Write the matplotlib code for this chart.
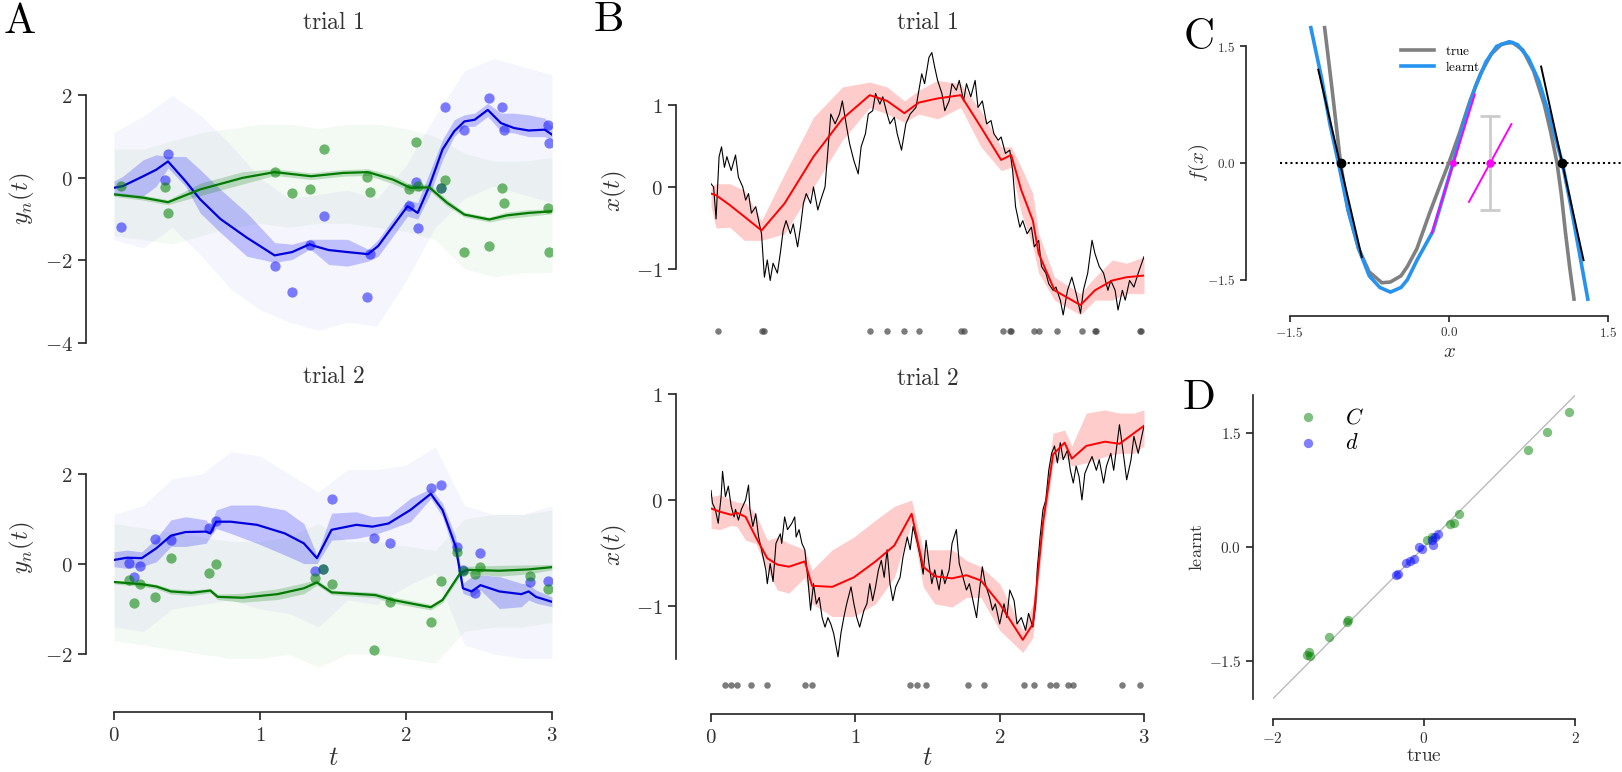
import numpy as np
import matplotlib
matplotlib.use('Agg')
import matplotlib.pyplot as plt

plt.rcParams['mathtext.fontset'] = 'cm'
plt.rcParams['axes.linewidth'] = 1.2

W, H = 1622, 772

# ---------------- panel A : observations y_n(t) ----------------
# observation times (shared with the spike dots of panel B)
obs_t1 = [0.05, 0.35, 0.37, 1.10, 1.22, 1.34, 1.44, 1.73, 1.75, 2.02,
          2.07, 2.08, 2.24, 2.27, 2.40, 2.57, 2.66, 2.67, 2.97, 2.98]
obs_blue1 = [-1.19, -0.04, 0.59, -2.14, -2.77, -1.64, -0.93, -2.89, -1.85, -0.69,
             -0.10, -1.21, -0.24, 1.73, 1.17, 1.94, 1.73, 1.17, 1.29, 0.85]
obs_green1 = [-0.20, -0.23, -0.85, 0.14, -0.36, -0.28, 0.69, 0.02, -0.34, -0.28,
              0.86, -0.20, -0.24, -0.06, -1.79, -1.65, -0.24, -0.62, -0.73, -1.81]

obs_t2 = [0.10, 0.14, 0.18, 0.28, 0.39, 0.65, 0.70, 1.38, 1.43, 1.49,
          1.78, 1.89, 2.17, 2.24, 2.35, 2.39, 2.47, 2.51, 2.85, 2.97]
obs_blue2 = [0.03, -0.28, -0.04, 0.56, 0.53, 0.81, 0.96, -0.15, -0.12, 1.44,
             0.58, 0.47, 1.68, 1.76, 0.37, -0.13, -0.64, 0.25, -0.41, -0.37]
obs_green2 = [-0.36, -0.87, -0.44, -0.73, 0.14, -0.19, 0.00, -0.30, -0.11, -0.44,
              -1.91, -0.85, -1.28, -0.38, 0.27, -0.15, -0.22, -0.07, -0.26, -0.56]

# fitted rate, trial 1
a1_blue_t = [0, 0.06, 0.2, 0.29, 0.37, 0.49, 0.59, 0.73, 0.91, 1.10,
             1.22, 1.34, 1.37, 1.47, 1.60, 1.74, 1.81, 2.01, 2.03, 2.08,
             2.16, 2.25, 2.33, 2.40, 2.47, 2.56, 2.65, 2.74, 2.84, 2.95, 3.0]
a1_blue_m = [-0.24, -0.2, 0.04, 0.2, 0.40, -0.08, -0.52, -1.0, -1.45, -1.88,
             -1.80, -1.61, -1.65, -1.75, -1.80, -1.85, -1.65, -0.69, -0.73, -0.85,
             -0.2, 0.69, 1.13, 1.37, 1.41, 1.65, 1.33, 1.21, 1.15, 1.17, 1.05]
a1_blue_hi = [-0.08, 0.04, 0.44, 0.56, 0.52, 0.52, 0.2, -0.28, -0.85, -1.57,
              -1.61, -1.49, -1.49, -1.49, -1.49, -1.73, -1.49, -0.52, -0.55, -0.6,
              0.12, 0.93, 1.41, 1.53, 1.57, 1.81, 1.57, 1.57, 1.53, 1.45, 1.25]
a1_blue_lo = [-0.4, -0.44, -0.44, -0.2, 0.24, -0.2, -0.85, -1.33, -1.9, -2.05,
              -1.98, -1.73, -1.8, -2.1, -2.14, -2.02, -1.9, -0.93, -0.95, -1.0,
              -0.44, 0.44, 1.0, 1.25, 1.25, 1.49, 1.13, 1.09, 1.0, 1.0, 0.93]

a1_green_t = [0, 0.2, 0.37, 0.59, 0.88, 1.10, 1.35, 1.57, 1.74, 1.91,
              2.03, 2.16, 2.28, 2.40, 2.57, 2.69, 2.84, 3.0]
a1_green_m = [-0.40, -0.48, -0.59, -0.28, 0.0, 0.14, 0.04, 0.12, 0.14, -0.04,
              -0.24, -0.23, -0.6, -0.89, -1.01, -0.91, -0.85, -0.81]
a1_green_sd = [0.05, 0.06, 0.06, 0.15, 0.15, 0.08, 0.08, 0.08, 0.08, 0.1,
               0.08, 0.08, 0.08, 0.06, 0.06, 0.08, 0.08, 0.06]

# fitted rate, trial 2
a2_blue_t = [0, 0.09, 0.19, 0.29, 0.39, 0.49, 0.63, 0.66, 0.70, 0.80,
             0.98, 1.17, 1.30, 1.39, 1.49, 1.66, 1.77, 1.88, 2.03, 2.17,
             2.25, 2.34, 2.39, 2.45, 2.51, 2.64, 2.79, 2.84, 2.89, 3.0]
a2_blue_m = [0.09, 0.14, 0.13, 0.35, 0.63, 0.71, 0.72, 0.68, 0.94, 0.94,
             0.87, 0.68, 0.46, 0.13, 0.76, 0.87, 0.83, 0.9, 1.2, 1.56,
             1.2, 0.39, -0.54, -0.61, -0.47, -0.61, -0.67, -0.61, -0.73, -0.84]
a2_blue_hi = [0.27, 0.31, 0.27, 0.57, 0.98, 1.05, 0.98, 0.83, 1.2, 1.31,
              1.31, 1.2, 0.9, 0.2, 1.13, 1.16, 1.05, 1.07, 1.46, 1.68,
              1.35, 0.61, -0.43, -0.28, -0.24, -0.28, -0.43, -0.45, -0.58, -0.73]
a2_blue_lo = [-0.06, -0.1, -0.06, 0.05, 0.39, 0.39, 0.46, 0.61, 0.79, 0.68,
              0.46, 0.2, 0.01, 0.01, 0.53, 0.57, 0.64, 0.76, 0.94, 1.46,
              1.05, 0.16, -0.65, -0.73, -0.58, -0.99, -0.95, -0.8, -0.87, -0.95]

a2_green_t = [0, 0.19, 0.29, 0.39, 0.53, 0.66, 0.71, 0.88, 1.12, 1.30,
              1.39, 1.49, 1.79, 1.91, 2.17, 2.25, 2.37, 2.42, 2.64, 2.84, 3.0]
a2_green_m = [-0.4, -0.45, -0.5, -0.61, -0.64, -0.59, -0.73, -0.75, -0.67, -0.54,
              -0.41, -0.63, -0.69, -0.8, -0.96, -0.8, -0.21, -0.13, -0.15, -0.12, -0.07]
a2_green_sd = [0.04, 0.05, 0.05, 0.06, 0.06, 0.05, 0.06, 0.1, 0.12, 0.12,
               0.06, 0.05, 0.06, 0.07, 0.06, 0.06, 0.06, 0.08, 0.12, 0.1, 0.06]

# faint cloud of noisy samples behind the fits (upper / lower envelope)
noise_t = [0, 0.2, 0.4, 0.6, 0.8, 1.0, 1.2, 1.4, 1.6, 1.8, 2.0, 2.2, 2.4, 2.6, 2.8, 3.0]
n1_blue_hi = [1.1, 1.5, 2.0, 1.5, 0.8, 0.0, -0.5, -0.4, -0.3, -0.5, 0.3, 1.5, 2.6, 2.9, 2.7, 2.5]
n1_blue_lo = [-1.5, -1.7, -1.2, -1.9, -2.7, -3.2, -3.5, -3.7, -3.5, -3.6, -2.5, -1.2, -0.5, -0.2, -0.4, -0.6]
n1_green_hi = [0.7, 0.7, 0.9, 1.1, 1.2, 1.3, 1.3, 1.2, 1.3, 1.3, 1.2, 1.0, 0.6, 0.4, 0.4, 0.5]
n1_green_lo = [-1.4, -1.5, -1.6, -1.4, -1.2, -1.1, -1.2, -1.1, -1.1, -1.2, -1.3, -1.5, -2.2, -2.4, -2.3, -2.3]
n2_blue_hi = [1.1, 1.3, 1.9, 2.0, 2.5, 2.4, 2.0, 1.6, 2.1, 2.1, 2.2, 2.6, 1.3, 1.1, 1.1, 1.3]
n2_blue_lo = [-1.4, -1.5, -1.0, -0.9, -0.8, -1.0, -1.1, -1.4, -0.8, -0.9, -0.5, -0.2, -1.8, -2.0, -2.1, -2.1]
n2_green_hi = [0.9, 0.8, 0.7, 0.6, 0.5, 0.5, 0.6, 0.9, 0.5, 0.5, 0.4, 0.3, 1.0, 1.1, 1.1, 1.2]
n2_green_lo = [-1.7, -1.8, -1.9, -2.0, -2.1, -2.1, -2.0, -2.3, -2.0, -2.0, -2.1, -2.2, -1.5, -1.4, -1.4, -1.3]

# ---------------- panel B : latent x(t) ----------------
b1_t = [0, 0.035, 0.13, 0.23, 0.35, 0.51, 0.71, 0.91, 1.10, 1.22,
        1.34, 1.44, 1.57, 1.73, 1.87, 2.01, 2.08, 2.15, 2.23, 2.27,
        2.38, 2.56, 2.66, 2.78, 2.88, 3.0]
b1_m = [-0.08, -0.1, -0.22, -0.36, -0.53, -0.2, 0.37, 0.83, 1.12, 1.05,
        0.9, 1.03, 1.08, 1.12, 0.73, 0.33, 0.39, -0.04, -0.41, -0.81,
        -1.26, -1.44, -1.26, -1.14, -1.1, -1.08]
b1_hi = [0.0, 0.04, 0.04, -0.04, -0.41, 0.16, 0.85, 1.22, 1.28, 1.22,
         1.05, 1.18, 1.30, 1.26, 0.93, 0.49, 0.49, 0.24, -0.08, -0.57,
         -1.1, -1.3, -1.1, -0.89, -0.93, -0.85]
b1_lo = [-0.24, -0.5, -0.49, -0.65, -0.65, -0.57, 0.0, 0.57, 0.97, 0.89,
         0.79, 0.89, 0.83, 0.97, 0.49, 0.2, 0.24, -0.32, -0.73, -1.05,
         -1.38, -1.56, -1.38, -1.38, -1.3, -1.3]

b1_true_t = [0, 0.018, 0.035, 0.056, 0.073, 0.093, 0.11, 0.14, 0.17, 0.19,
             0.22, 0.24, 0.26, 0.28, 0.31, 0.33, 0.35, 0.37, 0.39, 0.41,
             0.43, 0.46, 0.48, 0.50, 0.52, 0.55, 0.57, 0.60, 0.62, 0.64,
             0.66, 0.69, 0.71, 0.74, 0.76, 0.79, 0.81, 0.83, 0.86, 0.89,
             0.91, 0.94, 0.96, 0.99, 1.02, 1.04, 1.07, 1.09, 1.12, 1.14,
             1.17, 1.19, 1.22, 1.24, 1.27, 1.29, 1.32, 1.35, 1.38, 1.42,
             1.46, 1.48, 1.51, 1.53, 1.55, 1.57, 1.60, 1.62, 1.65, 1.67,
             1.70, 1.72, 1.75, 1.77, 1.80, 1.83, 1.85, 1.88, 1.91, 1.94,
             1.96, 1.99, 2.01, 2.04, 2.07, 2.09, 2.11, 2.14, 2.16, 2.19,
             2.22, 2.24, 2.27, 2.29, 2.32, 2.34, 2.37, 2.39, 2.42, 2.44,
             2.47, 2.50, 2.53, 2.56, 2.58, 2.61, 2.64, 2.66, 2.69, 2.72,
             2.75, 2.77, 2.80, 2.82, 2.85, 2.87, 2.90, 2.93, 2.96, 3.0]
b1_true_x = [0.04, 0.0, -0.39, 0.37, 0.49, 0.24, 0.37, 0.2, 0.39, 0.12,
             0.0, -0.16, -0.08, -0.32, -0.24, -0.41, -0.57, -1.1, -0.89, -1.14,
             -0.93, -1.05, -0.81, -0.53, -0.41, -0.57, -0.45, -0.73, -0.49, -0.2,
             -0.08, -0.2, 0.0, -0.28, -0.16, 0.0, 0.45, 0.89, 0.77, 0.89,
             1.05, 0.73, 0.53, 0.32, 0.16, 0.49, 0.65, 0.89, 0.93, 1.14,
             1.01, 1.1, 0.89, 0.77, 0.85, 0.65, 0.45, 0.77, 0.89, 0.97,
             1.38, 1.26, 1.58, 1.64, 1.46, 1.3, 1.14, 0.93, 1.05, 1.26,
             1.18, 1.3, 1.05, 1.26, 1.1, 1.3, 0.97, 1.05, 0.77, 0.81,
             0.65, 0.57, 0.61, 0.41, 0.45, 0.2, -0.24, -0.49, -0.41, -0.57,
             -0.49, -0.73, -0.65, -0.97, -1.05, -1.18, -1.26, -1.22, -1.38, -1.56,
             -1.26, -1.1, -1.3, -1.54, -1.26, -1.05, -0.65, -0.81, -0.97, -1.05,
             -1.26, -1.14, -1.26, -1.5, -1.26, -1.38, -1.14, -1.22, -1.05, -0.85]

b2_t = [0, 0.06, 0.14, 0.18, 0.24, 0.31, 0.39, 0.46, 0.54, 0.65,
        0.70, 0.84, 0.99, 1.14, 1.27, 1.39, 1.47, 1.55, 1.67, 1.77,
        1.87, 2.0, 2.16, 2.23, 2.30, 2.37, 2.45, 2.50, 2.60, 2.73,
        2.83, 2.93, 3.0]
b2_m = [-0.08, -0.11, -0.14, -0.12, -0.16, -0.35, -0.55, -0.61, -0.63, -0.58,
        -0.81, -0.82, -0.73, -0.58, -0.43, -0.13, -0.63, -0.72, -0.74, -0.71,
        -0.76, -0.98, -1.32, -1.17, -0.22, 0.43, 0.54, 0.39, 0.51, 0.55,
        0.53, 0.63, 0.70]
b2_hi = [0.03, 0.05, 0.0, -0.02, -0.03, -0.13, -0.38, -0.35, -0.41, -0.47,
         -0.66, -0.47, -0.35, -0.19, -0.06, 0.0, -0.47, -0.47, -0.47, -0.57,
         -0.63, -0.79, -1.23, -0.98, -0.09, 0.63, 0.66, 0.51, 0.82, 0.85,
         0.82, 0.82, 0.85]
b2_lo = [-0.27, -0.28, -0.24, -0.25, -0.38, -0.41, -0.66, -0.85, -0.88, -0.73,
         -0.98, -1.1, -1.1, -0.98, -0.73, -0.22, -0.82, -0.98, -1.01, -0.92,
         -0.92, -1.23, -1.44, -1.30, -0.35, 0.35, 0.41, 0.32, 0.35, 0.41,
         0.44, 0.44, 0.51]

b2_true_t = [0, 0.01, 0.03, 0.05, 0.07, 0.08, 0.10, 0.12, 0.14, 0.16,
             0.17, 0.19, 0.21, 0.24, 0.26, 0.27, 0.29, 0.31, 0.33, 0.35,
             0.38, 0.39, 0.41, 0.43, 0.45, 0.48, 0.49, 0.51, 0.53, 0.56,
             0.58, 0.59, 0.61, 0.63, 0.65, 0.67, 0.69, 0.71, 0.73, 0.75,
             0.77, 0.79, 0.81, 0.83, 0.85, 0.88, 0.90, 0.92, 0.94, 0.97,
             0.99, 1.01, 1.03, 1.06, 1.08, 1.10, 1.12, 1.14, 1.16, 1.18,
             1.20, 1.22, 1.24, 1.26, 1.28, 1.31, 1.33, 1.36, 1.38, 1.40,
             1.43, 1.45, 1.47, 1.49, 1.51, 1.53, 1.55, 1.58, 1.60, 1.62,
             1.65, 1.67, 1.70, 1.72, 1.74, 1.77, 1.79, 1.82, 1.84, 1.86,
             1.88, 1.90, 1.93, 1.95, 1.97, 2.0, 2.03, 2.05, 2.07, 2.10,
             2.12, 2.15, 2.18, 2.20, 2.23, 2.25, 2.26, 2.28, 2.30, 2.32,
             2.34, 2.36, 2.38, 2.40, 2.42, 2.44, 2.47, 2.49, 2.51, 2.53,
             2.55, 2.57, 2.59, 2.62, 2.64, 2.67, 2.69, 2.72, 2.74, 2.77,
             2.79, 2.83, 2.85, 2.88, 2.91, 2.93, 2.96, 3.0]
b2_true_x = [0.09, -0.03, -0.09, -0.22, 0.03, 0.27, 0.03, 0.13, -0.06, -0.16,
             -0.09, -0.19, -0.09, 0.0, 0.14, -0.09, -0.25, -0.13, -0.35, -0.47,
             -0.66, -0.79, -0.6, -0.77, -0.41, -0.32, -0.41, -0.16, -0.28, -0.22,
             -0.16, -0.35, -0.28, -0.41, -0.47, -0.73, -1.04, -0.79, -0.98, -0.92,
             -1.11, -1.2, -1.11, -1.17, -1.26, -1.48, -1.26, -1.11, -0.98, -0.82,
             -0.98, -1.11, -1.2, -1.04, -0.98, -0.79, -0.95, -0.82, -0.66, -0.57,
             -0.73, -0.47, -0.79, -0.95, -0.82, -0.73, -0.54, -0.35, -0.47, -0.25,
             -0.41, -0.54, -0.7, -0.38, -0.6, -0.79, -0.66, -0.85, -0.66, -0.79,
             -0.66, -0.41, -0.28, -0.6, -0.7, -0.85, -0.79, -0.98, -1.11, -0.85,
             -0.63, -0.79, -0.92, -1.04, -0.98, -1.17, -0.98, -1.11, -0.85, -0.95,
             -1.17, -1.11, -1.23, -1.07, -1.2, -0.98, -0.66, -0.35, -0.09, 0.0,
             0.28, 0.44, 0.51, 0.35, 0.54, 0.38, 0.47, 0.28, 0.16, 0.32,
             0.22, 0.0, 0.25, 0.35, 0.41, 0.28, 0.38, 0.16, 0.32, 0.44,
             0.28, 0.71, 0.51, 0.19, 0.38, 0.6, 0.44, 0.70]

# ---------------- panel C : dynamics f(x) ----------------
c_true_x = [-1.17, -1.10, -1.02, -0.95, -0.85, -0.75, -0.63, -0.55, -0.45, -0.39,
            -0.30, -0.18, -0.08, 0.0, 0.1, 0.2, 0.3, 0.4, 0.5, 0.6,
            0.7, 0.8, 0.9, 0.96, 1.02, 1.06, 1.10, 1.14, 1.18]
c_true_y = [1.74, 0.95, 0.0, -0.6, -1.1, -1.4, -1.54, -1.53, -1.45, -1.33,
            -1.1, -0.64, -0.28, 0.0, 0.38, 0.8, 1.15, 1.4, 1.53, 1.55,
            1.45, 1.18, 0.75, 0.4, 0.0, -0.4, -0.9, -1.35, -1.75]
c_learnt_x = [-1.30, -1.2, -1.12, -1.04, -0.95, -0.85, -0.75, -0.65, -0.55, -0.45,
              -0.39, -0.3, -0.15, -0.05, 0.04, 0.15, 0.25, 0.35, 0.45, 0.57,
              0.65, 0.75, 0.85, 0.95, 1.07, 1.15, 1.23, 1.31]
c_learnt_y = [1.74, 1.1, 0.5, 0.0, -0.6, -1.1, -1.45, -1.6, -1.66, -1.6,
              -1.5, -1.25, -0.88, -0.42, 0.0, 0.55, 0.98, 1.3, 1.5, 1.56,
              1.52, 1.35, 1.05, 0.6, 0.0, -0.55, -1.15, -1.75]
fp_stable_x = [-1.02, 1.07]
fp_unstable_x = [0.04]
fp_uncertain_x = 0.39
fp_uncertain_err = 0.6
# linearisations around the fixed points: (x0, x1, y0, y1)
tan_black = [(-1.23, -0.82, 1.2, -1.21), (0.87, 1.27, 1.24, -1.25)]
tan_magenta = [(-0.16, 0.245, -0.9, 0.88), (0.19, 0.59, -0.5, 0.5)]

# ---------------- panel D : parameters, true vs learnt ----------------
C_true = [1.92, 1.63, 1.38, 0.46, 0.40, 0.34, 0.04, 0.10, -1.0, -1.02, -1.26, -1.52, -1.54, -1.50]
C_learnt = [1.77, 1.51, 1.27, 0.43, 0.32, 0.30, 0.09, 0.13, -0.96, -0.99, -1.19, -1.38, -1.42, -1.44]
d_true = [0.18, 0.14, 0.10, 0.12, -0.03, -0.06, -0.13, -0.19, -0.24, -0.35, -0.37]
d_learnt = [0.17, 0.13, 0.09, 0.03, -0.03, 0.0, -0.16, -0.18, -0.21, -0.35, -0.37]

TXT = '#333333'


def add_ax(l, r, t, b):
    return fig.add_axes([l / W, 1 - b / H, (r - l) / W, (b - t) / H])


def style(ax, left_off, bottom_off=None, size=15, tick_len=6):
    for s in ['top', 'right']:
        ax.spines[s].set_visible(False)
    for s in ['left', 'bottom']:
        ax.spines[s].set_color('#222222')
    ax.spines['left'].set_position(('outward', left_off))
    if bottom_off is None:
        ax.spines['bottom'].set_visible(False)
        ax.tick_params(axis='x', bottom=False, labelbottom=False)
    else:
        ax.spines['bottom'].set_position(('outward', bottom_off))
    ax.tick_params(labelsize=size, length=tick_len, width=1.2, colors='#222222', labelcolor=TXT)
    ax.patch.set_alpha(0)


def mt(vals, fmt='{:g}'):
    return ['$' + fmt.format(v) + '$' for v in vals]


def ftext(x, y, s, size, **kw):
    fig.text(x / W, 1 - y / H, s, fontsize=size, ha='center', va='center', color=kw.pop('color', TXT), **kw)


fig = plt.figure(figsize=(W / 100, H / 100), dpi=100)

# ---- A ----
for (top, bot, ylim, yt, ybnd, nt, data) in [
        (46, 351, (-4.2, 3.2), [2, 0, -2, -4], (-4, 2), None,
         (obs_t1, obs_blue1, obs_green1, a1_blue_t, a1_blue_m, a1_blue_hi, a1_blue_lo,
          a1_green_t, a1_green_m, a1_green_sd, n1_blue_hi, n1_blue_lo, n1_green_hi, n1_green_lo)),
        (402, 694.5, (-2.9, 3.6), [2, 0, -2], (-2, 2), 12.6,
         (obs_t2, obs_blue2, obs_green2, a2_blue_t, a2_blue_m, a2_blue_hi, a2_blue_lo,
          a2_green_t, a2_green_m, a2_green_sd, n2_blue_hi, n2_blue_lo, n2_green_hi, n2_green_lo))]:
    (ot, ob, og, bt, bm, bhi, blo, gt, gm, gsd, nbh, nbl, ngh, ngl) = data
    ax = add_ax(114, 552, top, bot)
    ax.fill_between(noise_t, nbl, nbh, color='#8c8cf0', alpha=0.08, lw=0)
    ax.fill_between(noise_t, ngl, ngh, color='#5fb05f', alpha=0.07, lw=0)
    ax.fill_between(bt, blo, bhi, color='blue', alpha=0.22, lw=0)
    gm_a, gsd_a = np.array(gm), np.array(gsd)
    ax.fill_between(gt, gm_a - gsd_a, gm_a + gsd_a, color='green', alpha=0.22, lw=0)
    ax.plot(bt, bm, color='#0000dd', lw=1.6)
    ax.plot(gt, gm, color='#007a00', lw=1.6)
    ax.scatter(ot, ob, s=55, color='blue', alpha=0.5, lw=0, zorder=3)
    ax.scatter(ot, og, s=55, color='green', alpha=0.55, lw=0, zorder=3)
    ax.set_xlim(0, 3)
    ax.set_ylim(*ylim)
    style(ax, 20.2, nt)
    ax.set_yticks(yt, mt(yt))
    ax.spines['left'].set_bounds(*ybnd)
    ax.set_ylabel(r'$y_n(t)$', fontsize=18, color=TXT)
    ax.yaxis.set_label_coords((37 - 114) / 438, 0.5)
    if nt is not None:
        ax.set_xticks([0, 1, 2, 3], mt([0, 1, 2, 3]))
        ax.spines['bottom'].set_bounds(0, 3)
        ax.set_xlabel(r'$t$', fontsize=19, color=TXT)
        ax.xaxis.set_label_coords(0.5, (694.5 - 745) / 292.5)

# ---- B ----
for (top, bot, ylim, ybnd, nt, t, m, hi, lo, tt, tx, spk) in [
        (43.5, 338.7, (-1.85, 1.75), (-1, 1), None, b1_t, b1_m, b1_hi, b1_lo, b1_true_t, b1_true_x, obs_t1),
        (394, 696, (-1.85, 1.0), (-1.5, 1), 13.0, b2_t, b2_m, b2_hi, b2_lo, b2_true_t, b2_true_x, obs_t2)]:
    ax = add_ax(711, 1144, top, bot)
    ax.fill_between(t, lo, hi, color='red', alpha=0.2, lw=0)
    ax.plot(tt, tx, color='black', lw=0.8)
    ax.plot(t, m, color='red', lw=1.4)
    ax.scatter(spk, np.full(len(spk), -1.75), s=22, color='#444444', alpha=0.7, lw=0)
    ax.set_xlim(0, 3)
    ax.set_ylim(*ylim)
    style(ax, 25.2, nt)
    ax.set_yticks([1, 0, -1], mt([1, 0, -1]))
    ax.spines['left'].set_bounds(*ybnd)
    ax.set_ylabel(r'$x(t)$', fontsize=18, color=TXT)
    ax.yaxis.set_label_coords((629 - 711) / 433, 0.5)
    if nt is not None:
        ax.set_xticks([0, 1, 2, 3], mt([0, 1, 2, 3]))
        ax.spines['bottom'].set_bounds(0, 3)
        ax.set_xlabel(r'$t$', fontsize=19, color=TXT)
        ax.xaxis.set_label_coords(0.5, (696 - 745) / 302)

# ---- C ----
axC = add_ax(1279, 1620.7, 23, 303)
axC.plot([-1.59, 1.62], [0, 0], color='black', lw=1.5, ls=(0, (1, 1.5)), zorder=1)
axC.plot(c_true_x, c_true_y, color='#808080', lw=2.6, label=r'$\mathrm{true}$')
axC.plot(c_learnt_x, c_learnt_y, color='#2593ef', lw=2.6, label=r'$\mathrm{learnt}$')
for (x0, x1, y0, y1) in tan_black:
    axC.plot([x0, x1], [y0, y1], color='black', lw=1.4)
for (x0, x1, y0, y1) in tan_magenta:
    axC.plot([x0, x1], [y0, y1], color='magenta', lw=1.4)
axC.errorbar([fp_uncertain_x], [0], yerr=[fp_uncertain_err], color='#cccccc', lw=2, capsize=7, capthick=2, zorder=2)
axC.plot(fp_stable_x, [0, 0], 'o', color='black', ms=6, zorder=5)
axC.plot(fp_unstable_x, [0], 'o', color='magenta', ms=4, zorder=5)
axC.plot([fp_uncertain_x], [0], 'o', color='magenta', ms=5, zorder=5)
axC.set_xlim(-1.6, 1.62)
axC.set_ylim(-1.8, 1.8)
style(axC, 23.8, 9.4, size=9.5, tick_len=4)
axC.set_xticks([-1.5, 0, 1.5], mt([-1.5, 0.0, 1.5], '{:.1f}'))
axC.set_yticks([1.5, 0, -1.5], mt([1.5, 0.0, -1.5], '{:.1f}'))
axC.spines['left'].set_bounds(-1.5, 1.5)
axC.spines['bottom'].set_bounds(-1.5, 1.5)
axC.set_xlabel(r'$x$', fontsize=15, color=TXT)
axC.xaxis.set_label_coords(0.5, (303 - 341) / 280)
axC.set_ylabel(r'$f(x)$', fontsize=15, color=TXT)
axC.yaxis.set_label_coords((1211 - 1279) / 341.7, 0.5)
axC.legend(loc='upper left', bbox_to_anchor=(0.33, 0.955), frameon=False, fontsize=9.5,
           handlelength=2.5, handletextpad=0.85, labelspacing=0.15, borderpad=0.2)

# ---- D ----
axD = add_ax(1272.6, 1575.4, 395, 699)
axD.plot([-2, 2], [-2, 2], color='#bbbbbb', lw=1.0, zorder=1)
axD.scatter(C_true, C_learnt, s=45, color='green', alpha=0.5, lw=0, label=r'$C$', zorder=3)
axD.scatter(d_true, d_learnt, s=45, color='blue', alpha=0.5, lw=0, label=r'$d$', zorder=3)
axD.set_xlim(-2, 2)
axD.set_ylim(-2, 2)
style(axD, 14.0, 14.4, size=11, tick_len=5)
axD.set_xticks([-2, 0, 2], mt([-2, 0, 2]))
axD.set_yticks([1.5, 0, -1.5], mt([1.5, 0.0, -1.5], '{:.1f}'))
axD.spines['bottom'].set_bounds(-2, 2)
axD.set_xlabel(r'$\mathrm{true}$', fontsize=14, color=TXT)
axD.xaxis.set_label_coords(0.5, (699 - 746) / 304)
axD.set_ylabel(r'$\mathrm{learnt}$', fontsize=13, color=TXT)
axD.yaxis.set_label_coords((1206 - 1272.6) / 302.8, 0.5)
axD.legend(loc='upper left', bbox_to_anchor=(-0.022, 1.026), frameon=False, fontsize=16,
           handletextpad=0.64, labelspacing=0.27, scatterpoints=1)

# titles and panel letters
ftext(333, 22, r'$\mathrm{trial\ 1}$', 17)
ftext(333, 376, r'$\mathrm{trial\ 2}$', 17)
ftext(927, 22, r'$\mathrm{trial\ 1}$', 17)
ftext(927, 378, r'$\mathrm{trial\ 2}$', 17)
ftext(19, 21, r'$\mathrm{A}$', 31, color='black')
ftext(608, 19, r'$\mathrm{B}$', 31, color='black')
ftext(1198, 37, r'$\mathrm{C}$', 31, color='black')
ftext(1198, 397, r'$\mathrm{D}$', 31, color='black')

fig.savefig('out.png', dpi=100)
